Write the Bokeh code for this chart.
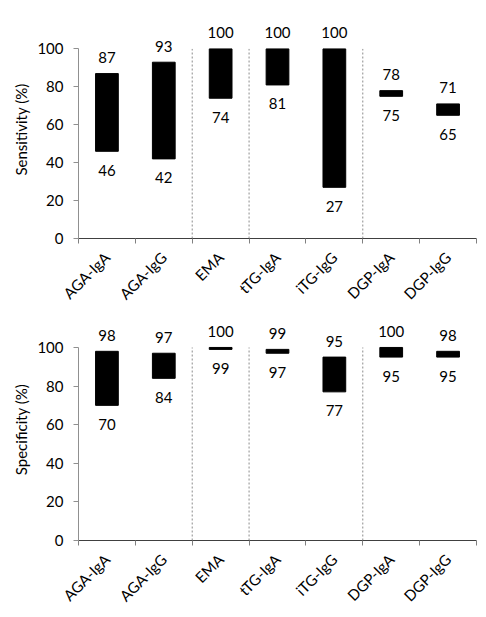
import math
from bokeh.plotting import figure
from bokeh.models import ColumnDataSource, FixedTicker, Range1d
from bokeh.layouts import column
from bokeh.embed import file_html
from bokeh.resources import INLINE
from bokeh.core.properties import value

categories = ["AGA-IgA", "AGA-IgG", "EMA", "tTG-IgA", "iTG-IgG", "DGP-IgA", "DGP-IgG"]
groups = ["AGA", "AGA", "EMA", "tTG", "tTG", "DGP", "DGP"]
sens_low = [46, 42, 74, 81, 27, 75, 65]
sens_high = [87, 93, 100, 100, 100, 78, 71]
spec_low = [70, 84, 99, 97, 77, 95, 95]
spec_high = [98, 97, 100, 99, 95, 100, 98]
y_ticks = [0, 20, 40, 60, 80, 100]

FONT = "Lato"


def make_panel(low, high, ylabel, height, top_border, bottom_border):
    n = len(categories)
    xs = [i + 0.5 for i in range(n)]
    p = figure(width=478, height=height, output_backend="svg", toolbar_location=None,
               x_range=Range1d(0, n), y_range=Range1d(0, 115),
               min_border_left=78, min_border_right=2,
               min_border_top=top_border, min_border_bottom=bottom_border)
    p.outline_line_color = None
    p.xgrid.visible = False
    p.ygrid.visible = False
    p.background_fill_color = "white"

    src = ColumnDataSource(dict(x=xs, low=low, high=high,
                                lt=[str(v) for v in low], ht=[str(v) for v in high]))
    p.vbar(x="x", bottom="low", top="high", width=0.4, source=src,
           fill_color="black", line_color="black")

    # group separators
    seps = [i for i in range(1, n) if groups[i] != groups[i - 1]]
    p.segment(x0=seps, y0=[0] * len(seps), x1=seps, y1=[y_ticks[-1]] * len(seps),
              line_color="#8c8c8c", line_dash="2 2", line_width=1)

    p.text(x="x", y="high", text="ht", source=src, text_align="center",
           text_baseline="middle", y_offset=-16, text_font=value(FONT),
           text_font_size="15px", text_color="black")
    p.text(x="x", y="low", text="lt", source=src, text_align="center",
           text_baseline="middle", y_offset=19, text_font=value(FONT),
           text_font_size="15px", text_color="black")

    # x axis
    xa = p.xaxis[0]
    xa.ticker = FixedTicker(ticks=xs, minor_ticks=list(range(n + 1)))
    xa.major_label_overrides = {x: c for x, c in zip(xs, categories)}
    xa.major_label_orientation = math.pi / 4
    xa.major_tick_line_color = None
    xa.minor_tick_line_color = "#808080"
    xa.minor_tick_out = 5
    xa.minor_tick_in = 0
    xa.axis_line_color = "#404040"
    xa.axis_line_width = 1
    xa.major_label_text_font = FONT
    xa.major_label_text_font_size = "15px"
    xa.major_label_text_color = "black"
    xa.major_label_standoff = 10

    # y axis
    ya = p.yaxis[0]
    ya.ticker = FixedTicker(ticks=y_ticks)
    ya.bounds = (y_ticks[0], y_ticks[-1])
    ya.minor_tick_line_color = None
    ya.major_tick_out = 5
    ya.major_tick_in = 0
    ya.major_tick_line_color = "#909090"
    ya.axis_line_color = "#909090"
    ya.major_label_text_font = FONT
    ya.major_label_text_font_size = "15px"
    ya.major_label_text_color = "black"
    ya.major_label_standoff = 10
    ya.axis_label = ylabel
    ya.axis_label_text_font = FONT
    ya.axis_label_text_font_size = "15px"
    ya.axis_label_text_font_style = "normal"
    ya.axis_label_text_color = "black"
    ya.axis_label_standoff = 4
    return p


p1 = make_panel(sens_low, sens_high, "Sensitivity (%)", 312, 20, 70)
p2 = make_panel(spec_low, spec_high, "Specificity (%)", 305, 6, 77)
layout = column(p1, p2)

open("out.html", "w").write(file_html(layout, INLINE))
